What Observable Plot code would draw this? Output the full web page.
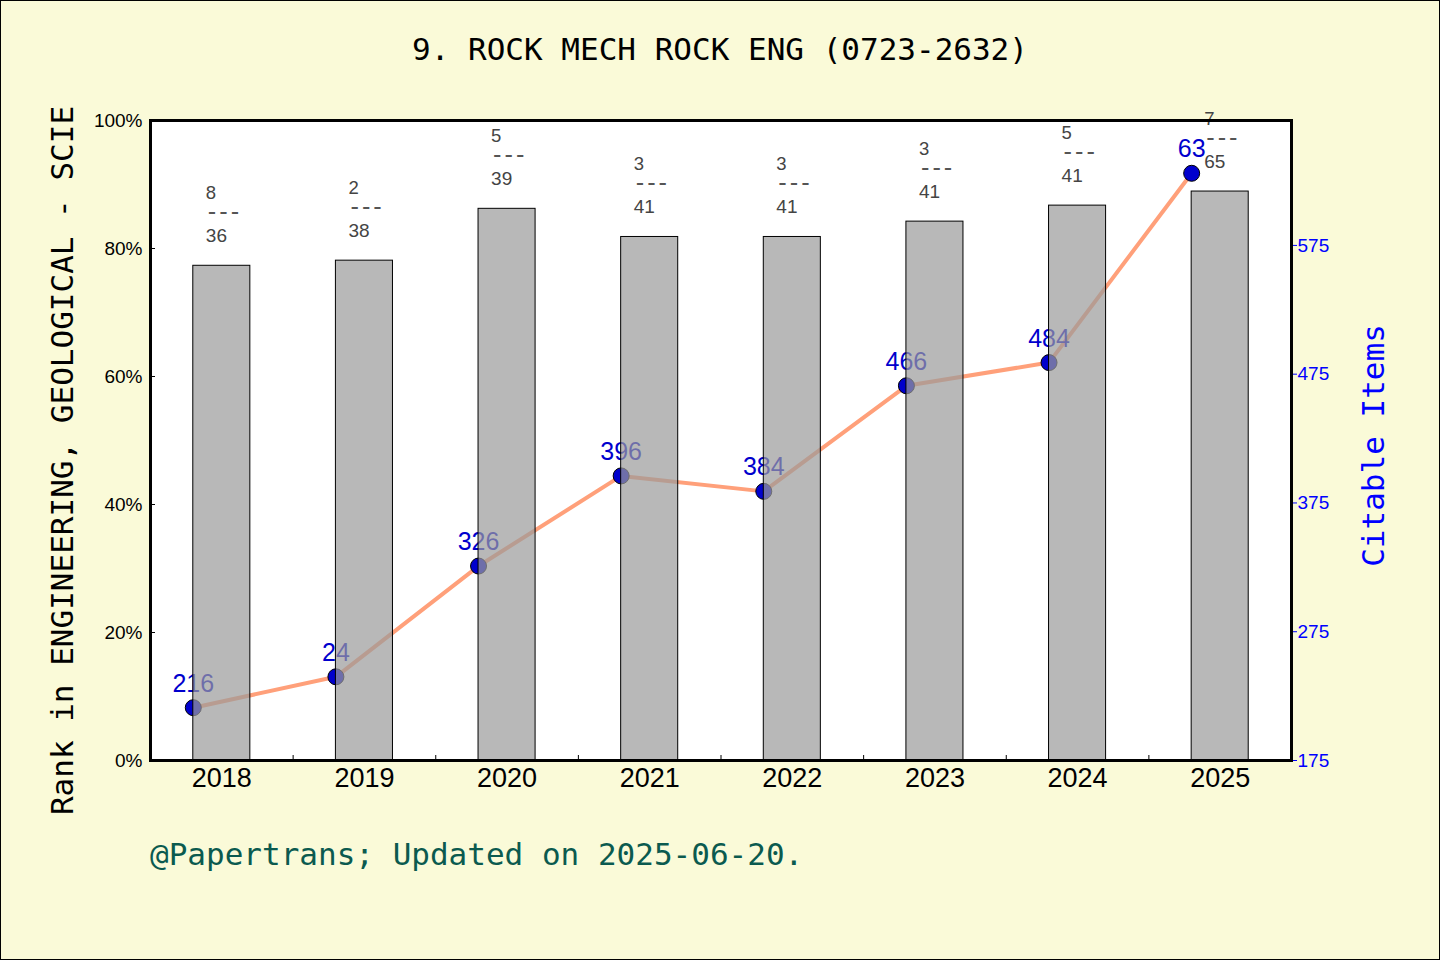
<!DOCTYPE html>
<html>
<head>
<meta charset="utf-8">
<script src="https://cdn.jsdelivr.net/npm/d3@7"></script>
<script src="https://cdn.jsdelivr.net/npm/@observablehq/plot@0.6"></script>
<style>
  html, body { margin: 0; padding: 0; background: #fafad8; }
  #wrap { position: relative; width: 1440px; height: 960px; overflow: hidden; background: #fafad8; outline: 1px solid #000; outline-offset: -1px; }
  #title { position: absolute; left: 0; width: 1440px; top: 34px; text-align: center; font-family: "DejaVu Sans Mono", "Liberation Mono", monospace; font-size: 31px; line-height: 31px; color: #000; }
  #chart { position: absolute; left: 0; top: 100px; }
  #footer { position: absolute; left: 150px; top: 839px; font-family: "DejaVu Sans Mono", "Liberation Mono", monospace; font-size: 31px; line-height: 31px; color: #0b5a4f; white-space: pre; }
</style>
</head>
<body>
<div id="wrap">
  <div id="title">9. ROCK MECH ROCK ENG (0723-2632)</div>
  <div id="chart"></div>
  <div id="footer">@Papertrans; Updated on 2025-06-20.</div>
</div>
<script>
// ---- data ----
const years = ["2018", "2019", "2020", "2021", "2022", "2023", "2024", "2025"];
const ranks = [8, 2, 5, 3, 3, 3, 5, 7];
const totals = [36, 38, 39, 41, 41, 41, 41, 65];
const rankPct = [77.3, 78.1, 86.2, 81.8, 81.8, 84.2, 86.7, 88.9];
const citable = [216, 240, 326, 396, 384, 466, 484, 631];
const citableLabels = ["216", "24", "326", "396", "384", "466", "484", "63"];
const leftTicks = [0, 20, 40, 60, 80, 100];
const rightTicks = [175, 275, 375, 475, 575];
const rightDomain = [175, 672];
const leftLabel = "Rank in ENGINEERING, GEOLOGICAL - SCIE";
const rightLabel = "Citable Items";

// right axis values mapped onto the left (percent) scale
const toLeft = v => (v - rightDomain[0]) / (rightDomain[1] - rightDomain[0]) * 100;
const fromLeft = p => rightDomain[0] + p / 100 * (rightDomain[1] - rightDomain[0]);

const data = years.map((y, i) => ({
  year: y, rank: ranks[i], total: totals[i], pct: rankPct[i],
  cit: toLeft(citable[i]), citLabel: citableLabels[i]
}));

const W = 1440, H = 720, mL = 150, mR = 149, mT = 20, mB = 60;
const step = (W - mL - mR) / years.length;
const bw = step * 0.4;
const frameH = H - mT - mB;
const frameW = W - mL - mR;
const mono = "DejaVu Sans Mono, Liberation Mono, monospace";
const sans = "Liberation Sans, Arial, sans-serif";

const chart = Plot.plot({
  width: W, height: H,
  marginLeft: mL, marginRight: mR, marginTop: mT, marginBottom: mB,
  style: { background: "transparent", fontFamily: sans, overflow: "visible" },
  x: { type: "band", domain: years, paddingInner: 0.6, paddingOuter: 0.3, round: false, label: null },
  y: { domain: [0, 100], label: null },
  marks: [
    Plot.frame({ fill: "white", stroke: null }),
    Plot.line(data, { x: "year", y: "cit", stroke: "#ffa07a", strokeWidth: 4, dx: -bw / 2 }),
    Plot.dot(data, { x: "year", y: "cit", r: 8, fill: "#0000cd", stroke: "black", strokeWidth: 1, dx: -bw / 2 }),
    Plot.text(data, { x: "year", y: "cit", text: "citLabel", fill: "#0000cd", fontSize: 25, dx: -bw / 2, dy: -16, lineAnchor: "bottom" }),
    // rank annotations: numerator, dashes, denominator
    Plot.text(data, { x: "year", y: "pct", text: d => String(d.rank), textAnchor: "start", lineAnchor: "bottom", dx: -16, dy: -67, fontSize: 18.5, fill: "#444" }),
    Plot.text(data, { x: "year", y: "pct", text: () => "---", textAnchor: "start", lineAnchor: "bottom", dx: -17, dy: -45.5, fontSize: 24, fontFamily: mono, fill: "#555" }),
    Plot.text(data, { x: "year", y: "pct", text: d => String(d.total), textAnchor: "start", lineAnchor: "bottom", dx: -16, dy: -23.5, fontSize: 19, fill: "#444" }),
    Plot.barY(data, { x: "year", y: "pct", fill: "#9b9b9b", fillOpacity: 0.71, stroke: "black", strokeWidth: 1 }),
    Plot.tickX(years.slice(1), { x: d => d, dx: -step / 2, insetTop: frameH - 5, stroke: "black" }),
    Plot.tickY(leftTicks, { y: d => d, insetRight: frameW - 5, stroke: "black" }),
    Plot.axisY({ anchor: "left", ticks: leftTicks, tickFormat: d => d + "%", tickSize: 0, tickPadding: 8, fontSize: 19 }),
    Plot.axisX({ anchor: "bottom", tickSize: 0, tickPadding: 7, fontSize: 27 }),
    Plot.axisY({ anchor: "right", ticks: rightTicks.map(toLeft), tickFormat: d => String(Math.round(fromLeft(d))), tickSize: 5, tickPadding: 1, fontSize: 19, color: "#0000ff" }),
    Plot.frame({ stroke: "black", strokeWidth: 3 }),
    Plot.text([leftLabel], { text: d => d, frameAnchor: "left", textAnchor: "middle", rotate: -90, dx: -87, dy: 20, fontSize: 31, fontFamily: mono, fill: "black" }),
    Plot.text([rightLabel], { text: d => d, frameAnchor: "right", textAnchor: "middle", rotate: -90, dx: 83, dy: 5, fontSize: 31, fontFamily: mono, fill: "#0000ff" })
  ]
});
// tighten the dash runs so they read as a near-continuous bar
d3.select(chart).selectAll("text").filter(function () { return this.textContent === "---"; })
  .style("letter-spacing", "-3px");
document.getElementById("chart").appendChild(chart);
</script>
</body>
</html>
